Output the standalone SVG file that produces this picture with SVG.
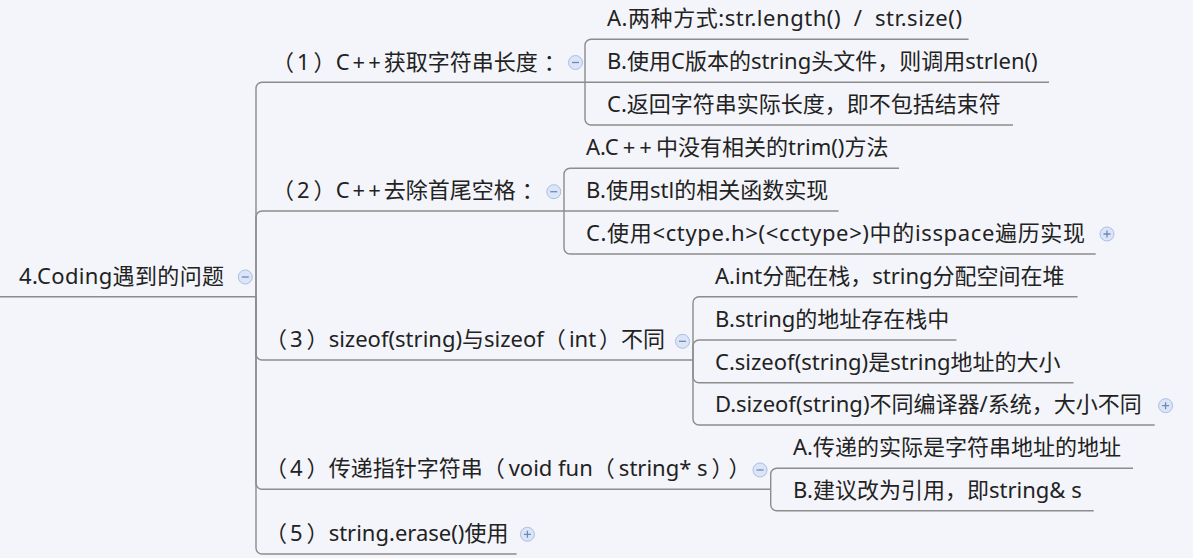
<svg xmlns="http://www.w3.org/2000/svg" width="1193" height="558" viewBox="0 0 1193 558">
<style>
text{font-family:"Noto Sans","Noto Sans CJK SC",sans-serif;font-size:22px;fill:#222;white-space:pre}
.ln{fill:none;stroke:#8c8c8c;stroke-width:1.4}
.tgc{fill:#dbe5f7;stroke:#a9bfe6;stroke-width:1}
.tgs{stroke:#7088b4;stroke-width:1.3;fill:none}
</style>
<rect width="1193" height="558" fill="#f4f5fa"/>
<defs>
<g id="minus"><circle class="tgc" r="7"/><path class="tgs" d="M-3.5,0H3.5"/></g>
<g id="plus"><circle class="tgc" r="7"/><path class="tgs" d="M-3.5,0H3.5M0,-3.5V3.5"/></g>
</defs>
<g id="connectors" class="ln">
<path d="M0,296.7H256"/>
<path d="M256,296.7V88.3A6,6 0 0 1 262,82.3H585"/>
<path d="M256,296.7V217A6,6 0 0 1 262,211H564"/>
<path d="M256,296.7V354A6,6 0 0 0 262,360H693"/>
<path d="M256,296.7V483.3A6,6 0 0 0 262,489.3H770.7"/>
<path d="M256,296.7V548A6,6 0 0 0 262,554H516.6"/>
<path d="M585,82.3V45.3A6,6 0 0 1 591,39.3H968.6"/>
<path d="M585,82.3H1049"/>
<path d="M585,82.3V119A6,6 0 0 0 591,125H1013"/>
<path d="M564,211V174.3A6,6 0 0 1 570,168.3H899"/>
<path d="M564,211H838.6"/>
<path d="M564,211V248A6,6 0 0 0 570,254H1095.7"/>
<path d="M693,360V302.7A6,6 0 0 1 699,296.7H1077.6"/>
<path d="M693,360V346A6,6 0 0 1 699,340H956.4"/>
<path d="M693,360V376.7A6,6 0 0 0 699,382.7H1073.5"/>
<path d="M693,360V419A6,6 0 0 0 699,425H1154.7"/>
<path d="M770.7,489.3V474.3A6,6 0 0 1 776.7,468.3H1133"/>
<path d="M770.7,489.3V504.7A6,6 0 0 0 776.7,510.7H1093.7"/>
</g>
<g id="root"><text x="19" y="284" textLength="205" lengthAdjust="spacing">4.Coding遇到的问题</text><use href="#minus" x="245.3" y="277"/></g>
<g id="b1"><text x="272" y="70">（<tspan dx="3">1</tspan><tspan dx="4">）</tspan>C<tspan dx="3 3 3">++获</tspan>取字符串长度<tspan dx="6">：</tspan></text><use href="#minus" x="575.5" y="62.5"/></g>
<g id="b1a"><text x="607" y="26" textLength="355" lengthAdjust="spacing">A.两种方式:str.length()  /  str.size()</text></g>
<g id="b1b"><text x="607" y="69">B.使用C版本的string头文件，则调用strlen()</text></g>
<g id="b1c"><text x="607" y="112">C.返回字符串实际长度，即不包括结束符</text></g>
<g id="b2"><text x="272" y="198">（<tspan dx="3">2</tspan><tspan dx="4">）</tspan>C<tspan dx="3 3 3">++去</tspan>除首尾空格<tspan dx="6">：</tspan></text><use href="#minus" x="553.8" y="191.7"/></g>
<g id="b2a"><text x="586" y="155">A.C<tspan dx="4 4 4">++中</tspan>没有相关的trim()方法</text></g>
<g id="b2b"><text x="586" y="198">B.使用stl的相关函数实现</text></g>
<g id="b2c"><text x="586" y="241" textLength="499" lengthAdjust="spacing">C.使用&lt;ctype.h&gt;(&lt;cctype&gt;)中的isspace遍历实现</text><use href="#plus" x="1107" y="234"/></g>
<g id="b3"><text x="265" y="347">（<tspan dx="3">3</tspan><tspan dx="4">）</tspan>sizeof(string)与sizeof（<tspan dx="3">int</tspan><tspan dx="3">）</tspan>不同</text><use href="#minus" x="682.5" y="341.3"/></g>
<g id="b3a"><text x="715" y="284">A.int分配在栈，string分配空间在堆</text></g>
<g id="b3b"><text x="715" y="327">B.string的地址存在栈中</text></g>
<g id="b3c"><text x="715" y="370">C.sizeof(string)是string地址的大小</text></g>
<g id="b3d"><text x="715" y="412">D.sizeof(string)不同编译器/系统，大小不同</text><use href="#plus" x="1165.6" y="405.7"/></g>
<g id="b4"><text x="265" y="476">（<tspan dx="3">4</tspan><tspan dx="4">）</tspan>传递指针字符串（<tspan dx="4">void fun</tspan>（<tspan dx="4">string* s</tspan><tspan dx="4">）</tspan><tspan dx="6">）</tspan></text><use href="#minus" x="760" y="470"/></g>
<g id="b4a"><text x="793" y="455">A.传递的实际是字符串地址的地址</text></g>
<g id="b4b"><text x="793" y="498">B.建议改为引用，即string&amp; s</text></g>
<g id="b5"><text x="265" y="541">（<tspan dx="3">5</tspan><tspan dx="4">）</tspan>string.erase()使用</text><use href="#plus" x="527.4" y="534.3"/></g>
</svg>
